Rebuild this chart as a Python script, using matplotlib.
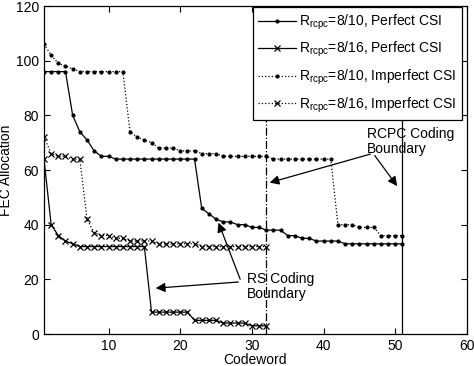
import matplotlib
matplotlib.use("Agg")
import matplotlib.pyplot as plt

plt.rcParams['font.family'] = ['Liberation Sans', 'DejaVu Sans']
plt.rcParams['mathtext.fontset'] = 'custom'
plt.rcParams['mathtext.rm'] = 'Liberation Sans'
plt.rcParams['mathtext.it'] = 'Liberation Sans:italic'
plt.rcParams['font.size'] = 10

# ---- dados ----
x_810_perf = list(range(1, 52))
y_810_perf = [96, 96, 96, 96, 80, 74, 71, 67, 65, 65,
              64, 64, 64, 64, 64, 64, 64, 64, 64, 64,
              64, 64, 46, 44, 42, 41, 41, 40, 40, 39,
              39, 38, 38, 38, 36, 36, 35, 35, 34, 34,
              34, 34, 33, 33, 33, 33, 33, 33, 33, 33, 33]

x_816_perf = list(range(1, 33))
y_816_perf = [64, 40, 36, 34, 33, 32, 32, 32, 32, 32,
              32, 32, 32, 32, 32, 8, 8, 8, 8, 8,
              8, 5, 5, 5, 5, 4, 4, 4, 4, 3, 3, 3]

x_810_imp = list(range(1, 52))
y_810_imp = [106, 102, 99, 98, 97, 96, 96, 96, 96, 96,
             96, 96, 74, 72, 71, 70, 68, 68, 68, 67,
             67, 67, 66, 66, 66, 65, 65, 65, 65, 65,
             65, 65, 64, 64, 64, 64, 64, 64, 64, 64,
             64, 40, 40, 40, 39, 39, 39, 36, 36, 36, 36]

x_816_imp = list(range(1, 33))
y_816_imp = [72, 66, 65, 65, 64, 64, 42, 37, 36, 36,
             35, 35, 34, 34, 34, 34, 33, 33, 33, 33,
             33, 33, 32, 32, 32, 32, 32, 32, 32, 32, 32, 32]

rs_fronteira = 32
rcpc_fronteira = 51

rotulos = [r'R$_{\mathrm{rcpc}}$=8/10, Perfect CSI',
           r'R$_{\mathrm{rcpc}}$=8/16, Perfect CSI',
           r'R$_{\mathrm{rcpc}}$=8/10, Imperfect CSI',
           r'R$_{\mathrm{rcpc}}$=8/16, Imperfect CSI']

fig = plt.figure(figsize=(4.74, 3.66), dpi=100)
ax = fig.add_axes([0.0928, 0.0874, 0.8924, 0.8962])

lw = 0.9
ax.plot(x_810_perf, y_810_perf, 'k-', marker='.', markersize=4, lw=lw, label=rotulos[0])
ax.plot(x_816_perf, y_816_perf, 'k-', marker='x', markersize=5, mew=0.9, lw=lw, label=rotulos[1])
ax.plot(x_810_imp, y_810_imp, 'k:', marker='.', markersize=4, lw=lw, label=rotulos[2])
ax.plot(x_816_imp, y_816_imp, 'k:', marker='x', markersize=5, mew=0.9, lw=lw, label=rotulos[3])

# fronteiras
ax.axvline(rs_fronteira, color='k', ls='-.', lw=0.9)
ax.axvline(rcpc_fronteira, color='k', ls='-', lw=0.9)

# anotações
seta = dict(arrowstyle='-|>', color='k', lw=0.9, mutation_scale=14)
ax.text(46.0, 70.5, 'RCPC Coding\nBoundary', ha='left', va='center', linespacing=1.1)
ax.annotate('', xy=(32.1, 55.1), xytext=(46.9, 66.1), arrowprops=seta)
ax.annotate('', xy=(50.5, 53.3), xytext=(46.9, 66.1), arrowprops=seta)

ax.text(29.3, 17.5, 'RS Coding\nBoundary', ha='left', va='center', linespacing=1.1)
ax.annotate('', xy=(25.2, 41.7), xytext=(28.5, 19.1), arrowprops=seta)
ax.annotate('', xy=(16.2, 16.7), xytext=(28.5, 19.1), arrowprops=seta)

ax.set_xlim(1, 60)
ax.set_ylim(0, 120)
ax.set_xticks(range(10, 61, 10))
ax.set_yticks(range(0, 121, 20))
ax.tick_params(direction='in', top=True, right=True, length=4, width=0.8)
for s in ax.spines.values():
    s.set_linewidth(0.9)
ax.set_xlabel('Codeword', labelpad=0)
ax.set_ylabel('FEC Allocation', labelpad=2)

leg = ax.legend(loc='upper right', bbox_to_anchor=(0.988, 0.997), borderaxespad=0,
                numpoints=1, fancybox=False, framealpha=1, edgecolor='k',
                handlelength=2.7, handletextpad=0.25, labelspacing=0.6, borderpad=0.4)
leg.get_frame().set_linewidth(0.9)

fig.savefig('out.png', dpi=100)
